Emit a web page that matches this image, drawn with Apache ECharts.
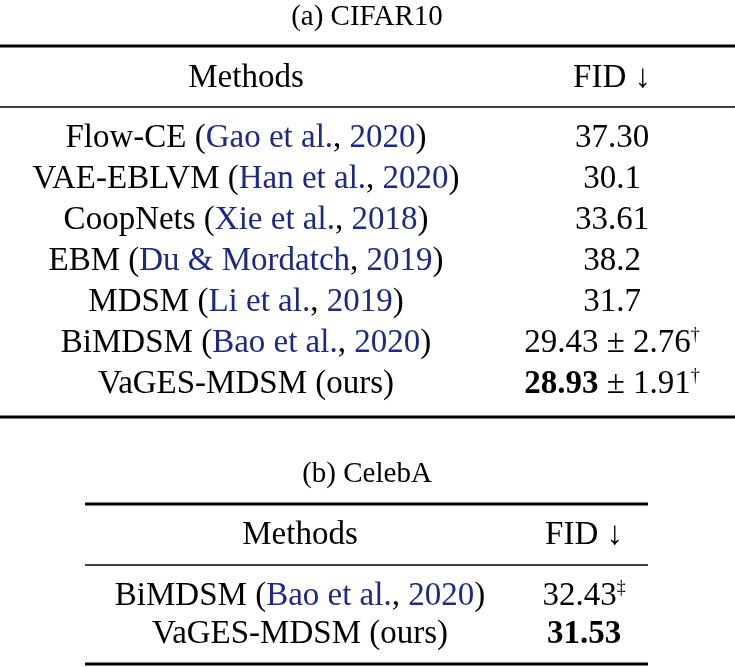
<!DOCTYPE html>
<html><head><meta charset="utf-8">
<script src="https://cdn.jsdelivr.net/npm/echarts@6/dist/echarts.min.js"></script>
<style>html,body{margin:0;padding:0;background:#fff}#c{width:735px;height:667px}</style>
</head><body><div id="c"></div>
<script>
const titleA = "(a) CIFAR10";
const titleB = "(b) CelebA";
const headers = ["Methods", "FID ↓"];
const methodsA = ["Flow-CE", "VAE-EBLVM", "CoopNets", "EBM", "MDSM", "BiMDSM", "VaGES-MDSM (ours)"];
const citesA = [["Gao et al.", "2020"], ["Han et al.", "2020"], ["Xie et al.", "2018"], ["Du & Mordatch", "2019"], ["Li et al.", "2019"], ["Bao et al.", "2020"], null];
const fidA = ["37.30", "30.1", "33.61", "38.2", "31.7", "29.43", "28.93"];
const stdA = [null, null, null, null, null, "2.76", "1.91"];
const markA = [null, null, null, null, null, "†", "†"];
const boldA = [false, false, false, false, false, false, true];
const methodsB = ["BiMDSM", "VaGES-MDSM (ours)"];
const citesB = [["Bao et al.", "2020"], null];
const fidB = ["32.43", "31.53"];
const markB = ["‡", null];
const boldB = [false, true];

const FONT = '"Liberation Serif","DejaVu Serif",serif';
const FS = 33;
const BLUE = '#1c2a86';
const rich = {
  b: {fontFamily: FONT, fontSize: FS, fontWeight: 'bold', fill: '#000'},
  c: {fontFamily: FONT, fontSize: FS, fill: BLUE},
  s: {fontFamily: FONT, fontSize: 18, fill: '#000', verticalAlign: 'top', padding: [0, 0, 15, 0]}
};
function methodText(m, c) {
  if (!c) return m;
  return m + ' ({c|' + c[0] + '}, {c|' + c[1] + '})';
}
function fidText(v, std, mk, bold) {
  let t = bold ? '{b|' + v + '}' : v;
  if (std) t += ' ± ' + std;
  if (mk) t += '{s|' + mk + '}';
  return t;
}
function txt(x, y, text, fs) {
  return {type: 'text', style: {x, y, text, align: 'center', verticalAlign: 'middle',
    fontFamily: FONT, fontSize: fs || FS, fill: '#000', rich}};
}
function rule(x1, x2, y, h) {
  return {type: 'rect', shape: {x: x1, y: y - h / 2, width: x2 - x1, height: h}, style: {fill: '#000'}};
}
const els = [];
// Table A
els.push(txt(367, 17, titleA, 29));
els.push(rule(0, 735, 46, 3));
els.push(txt(246, 78, headers[0]), txt(612, 78, headers[1]));
els.push(rule(0, 735, 107, 1.5));
methodsA.forEach((m, i) => {
  const y = 138 + i * 41;
  els.push(txt(246, y, methodText(m, citesA[i])));
  els.push(txt(612, y, fidText(fidA[i], stdA[i], markA[i], boldA[i])));
});
els.push(rule(0, 735, 417, 3));
// Table B
els.push(txt(367, 474, titleB, 29));
els.push(rule(85, 648, 504, 3));
els.push(txt(300, 535, headers[0]), txt(584, 535, headers[1]));
els.push(rule(85, 648, 565, 1.5));
methodsB.forEach((m, i) => {
  const y = 596 + i * 38;
  els.push(txt(300, y, methodText(m, citesB[i])));
  els.push(txt(584, y, fidText(fidB[i], null, markB[i], boldB[i])));
});
els.push(rule(85, 648, 664, 3));

const chart = echarts.init(document.getElementById('c'));
chart.setOption({animation: false, graphic: {elements: els}});
</script></body></html>
